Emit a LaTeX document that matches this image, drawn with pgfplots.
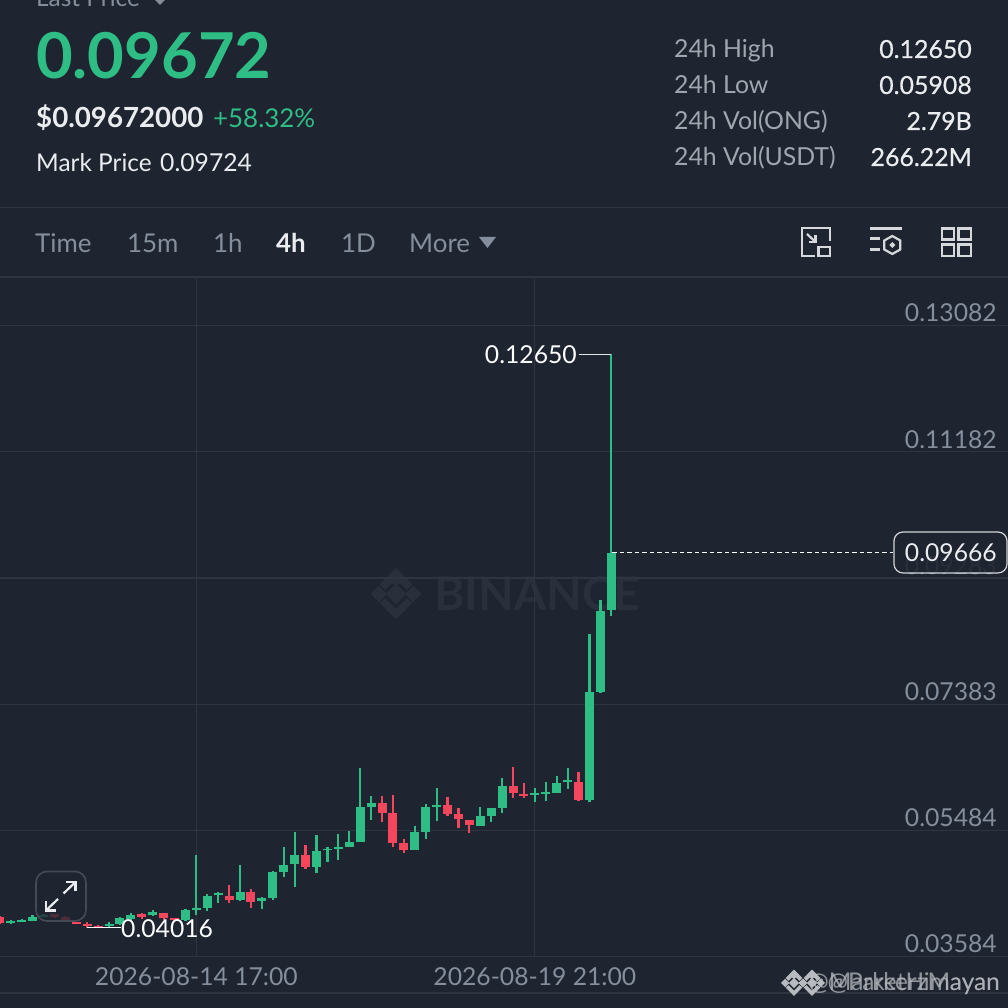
\documentclass[border=0pt]{standalone}
\usepackage{pgfplots}
\usepackage{pgfplotstable}
\usepackage{fontspec}
\setmainfont{Lato}
\newfontfamily\medf[FakeBold=0.5]{Lato}
\pgfplotsset{compat=1.18}
\usetikzlibrary{calc}
\definecolor{bg}{HTML}{1F2530}
\definecolor{up}{HTML}{2EBD85}
\definecolor{down}{HTML}{F6465D}
\definecolor{gridc}{HTML}{2E3540}
\definecolor{muted}{HTML}{848E9C}
\definecolor{soft}{HTML}{B7BDC6}
\definecolor{bright}{HTML}{EAECEF}
\definecolor{wm}{HTML}{2A303B}
\pgfplotstableread{
i lo bot top hi
1 .04070 .04091 .04126 .04141
2 .04100 .04106 .04137 .04156
3 .04115 .04126 .04186 .04216
4 .04179 .04186 .04216 .04231
10 .04031 .04036 .04066 .04106
11 .04055 .04066 .04161 .04186
12 .04126 .04156 .04216 .04246
14 .04197 .04212 .04251 .04287
17 .04126 .04137 .04277 .04296
18 .04206 .04277 .04307 .05115
19 .04266 .04311 .04498 .04522
20 .04386 .04507 .04533 .04552
22 .04417 .04438 .04548 .04965
24 .04302 .04427 .04462 .04477
25 .04438 .04462 .04849 .04874
26 .04776 .04849 .04966 .05233
27 .04627 .04977 .05109 .05455
29 .04838 .04929 .05175 .05410
30 .05010 .05180 .05210 .05230
31 .05040 .05206 .05236 .05431
32 .05230 .05236 .05311 .05481
33 .05305 .05311 .05838 .06419
34 .05632 .05838 .05892 .05993
38 .05190 .05195 .05455 .05546
39 .05350 .05461 .05832 .05883
40 .05617 .05832 .05868 .06128
44 .05552 .05556 .05692 .05838
45 .05602 .05692 .05823 .05827
46 .05742 .05827 .06144 .06275
49 .05907 .06023 .06053 .06124
50 .05922 .06034 .06058 .06204
51 .06049 .06053 .06199 .06299
52 .06113 .06208 .06234 .06419
54 .05908 .05943 .07563 .08443
55 .07548 .07563 .08783 .08944
56 .08703 .08804 .09666 .12650
}\upcandles
\pgfplotstableread{
i lo bot top hi
0 .04066 .04085 .04176 .04194
5 .04164 .04176 .04224 .04231
6 .04126 .04137 .04186 .04194
7 .04066 .04070 .04100 .04103
8 .04016 .04040 .04066 .04096
9 .04018 .04018 .04040 .04061
13 .04156 .04186 .04221 .04246
15 .04137 .04161 .04242 .04246
16 .04121 .04131 .04161 .04171
21 .04386 .04438 .04498 .04664
23 .04311 .04408 .04548 .04603
28 .04898 .04929 .05115 .05270
35 .05602 .05752 .05892 .06004
36 .05230 .05296 .05752 .06019
37 .05139 .05190 .05290 .05356
41 .05696 .05726 .05868 .05988
42 .05516 .05647 .05722 .05817
43 .05436 .05567 .05636 .05642
47 .05967 .06043 .06144 .06430
48 .05967 .06008 .06034 .06199
53 .05928 .05937 .06214 .06369
}\downcandles
\newcommand\diamondlogo[3]{% cx cy scale
  \begin{scope}[shift={(#1,#2)},scale=#3]
   \fill (0,-10) -- (3.6,-6.4) -- (0,-2.8) -- (-3.6,-6.4) -- cycle;
   \fill (0,-4)--(4,0)--(0,4)--(-4,0)--cycle;
   \fill (-10,0)--(-6.8,-3.2)--(-3.6,0)--(-6.8,3.2)--cycle;
   \fill (10,0)--(6.8,-3.2)--(3.6,0)--(6.8,3.2)--cycle;
   \fill (0,10)--(-6.4,3.6)--(-4.2,1.6)--(0,5.8)--(4.2,1.6)--(6.4,3.6)--cycle;
   \fill (0,-10.2)--(-6.4,-3.8)--(-4.2,-1.6)--(0,-5.8)--(4.2,-1.6)--(6.4,-3.8)--cycle;
  \end{scope}}
\begin{document}
\begin{tikzpicture}
\useasboundingbox (0,0) rectangle (1008bp,1008bp);
\fill[bg] (0,0) rectangle (1008bp,1008bp);
\begin{scope}[x=1bp,y=-1bp,yshift=1008bp]
 % watermark under the plot
 \begin{scope}[color=wm]
  \diamondlogo{396}{594}{2.55}
  \node[anchor=center,font=\fontsize{46.5}{46.5}\selectfont\bfseries,text=wm,inner sep=0] at (537,594) {BINANCE};
 \end{scope}
\end{scope}
\begin{axis}[
  at={(0bp,50.5bp)},anchor=south west,
  width=1008bp,height=680bp,scale only axis,
  xmin=0.016,xmax=92.324,
  ymin=0.03569,ymax=0.13807,
  axis line style={draw=none},
  major tick length=0pt,
  grid=major,
  grid style={gridc,line width=1.1bp},
  xtick={18,49},
  xticklabels={2026-08-14 17:00,2026-08-19 21:00},
  ytick={0.03584,0.05484,0.07383,0.09283,0.11182,0.13082},
  yticklabels={0.03584,0.05484,0.07383,0.09283,0.11182,0.13082},
  yticklabel pos=right,
  y tick label style={anchor=east,xshift=-11bp,yshift=12.5bp,text=muted,font=\fontsize{24.8}{24.8}\selectfont,inner sep=0pt},
  x tick label style={anchor=center,yshift=-19bp,text=muted,font=\fontsize{24.8}{24.8}\selectfont,inner sep=0pt},
]
% wicks
\addplot[draw=none,no markers,forget plot,error bars/.cd,y dir=plus,y explicit,error mark=none,error bar style={solid,draw=up,line width=2.2bp}]
  table[x=i,y=lo,y error plus expr=\thisrow{hi}-\thisrow{lo}]{\upcandles};
\addplot[draw=none,no markers,forget plot,error bars/.cd,y dir=plus,y explicit,error mark=none,error bar style={solid,draw=down,line width=2.2bp}]
  table[x=i,y=lo,y error plus expr=\thisrow{hi}-\thisrow{lo}]{\downcandles};
% bodies
\addplot[draw=none,no markers,forget plot,error bars/.cd,y dir=plus,y explicit,error mark=none,error bar style={solid,draw=up,line width=9bp}]
  table[x=i,y=bot,y error plus expr=\thisrow{top}-\thisrow{bot}]{\upcandles};
\addplot[draw=none,no markers,forget plot,error bars/.cd,y dir=plus,y explicit,error mark=none,error bar style={solid,draw=down,line width=9bp}]
  table[x=i,y=bot,y error plus expr=\thisrow{top}-\thisrow{bot}]{\downcandles};
% annotations
\addplot[white!80!gray,line width=1.2bp,forget plot] coordinates {(53.0,0.12650) (56,0.12650)};
\addplot[white,line width=1.2bp,forget plot] coordinates {(8,0.04016) (11.1,0.04016)};
\addplot[white,line width=1bp,dash pattern=on 4.5bp off 3bp,forget plot] coordinates {(56.1,0.09666) (81.8,0.09666)};
\end{axis}
\begin{scope}[x=1bp,y=-1bp,yshift=1008bp]
 \tikzset{t/.style={inner sep=0pt,font=\fontsize{#1}{#1}\selectfont}}
 % rules
 \draw[gridc,line width=1.2bp] (0,207.5)--(1008,207.5);
 \draw[gridc,line width=1.2bp] (0,277)--(1008,277);
 \draw[gridc,line width=1.1bp] (0,993)--(1008,993);
 % header
 \node[anchor=base west,inner sep=0pt,text=muted,font=\fontsize{24.5}{24.5}\selectfont] at (36,7) {Last Price};
 \fill[muted] (155,0)--(165,0)--(160,5)--cycle;
 \node[anchor=base west,inner sep=0pt,text=up,font=\fontsize{63.5}{63.5}\selectfont\bfseries] at (36,79) {0.09672};
 \node[anchor=base west,inner sep=0pt,text=bright,font=\fontsize{27.8}{27.8}\selectfont\bfseries] at (36,128) {\$0.09672000};
 \node[t=26,anchor=base west,text=up] at (213,128) {+58.32\%};
 \node[t=24.5,anchor=base west,text=bright] at (36,172) {Mark Price};
 \node[t=24.8,anchor=base west,text=bright] at (160,172) {0.09724};
 % stats
 \foreach \y/\a/\b in {58/24h High/0.12650,94/24h Low/0.05908,130/24h Vol(ONG)/2.79B,166/24h Vol(USDT)/266.22M}{
  \node[t=24.9,anchor=base west,text=soft!85!bg] at (674,\y) {\a};
  \node[anchor=base east,inner sep=0pt,text=bright,font=\fontsize{25}{25}\selectfont\medf] at (972,\y) {\b};
 }
 % tabs
 \foreach \x/\a in {35/Time,127/15m,213/1h,341/1D,409/More}{
  \node[t=26,anchor=base west,text=muted] at (\x,253) {\a};
 }
 \node[anchor=base west,inner sep=0pt,text=bright,font=\fontsize{26}{26}\selectfont\bfseries] at (276,253) {4h};
 \fill[muted] (479,237)--(496,237)--(487.5,248)--cycle;
 % toolbar icons
 \begin{scope}[draw=bright!90!bg,line width=2.2bp]
  \draw (815,256)--(802,256)--(802,228)--(830,228)--(830,241);
  \draw (818.5,247)rectangle(830,256);
  \draw (807,234)--(815.5,242);
  \draw (815.5,235.5)--(815.5,242)--(808.5,242);
  \draw (870,228.5)--(902,228.5);
  \draw (870,238.5)--(879.5,238.5);
  \draw (870,249.5)--(879.5,249.5);
  \draw (892.3,236)--(900.3,240.5)--(900.3,249.5)--(892.3,254)--(884.3,249.5)--(884.3,240.5)--cycle;
  \fill[bright!90!bg] (892.3,242)--(895.3,245)--(892.3,248)--(889.3,245)--cycle;
  \draw (942,228.5)rectangle(954,239.5);
  \draw (958.5,228.5)rectangle(971,239.5);
  \draw (942,244.5)rectangle(954,256);
  \draw (958.5,244.5)rectangle(971,256);
 \end{scope}
 % high and low labels
 \node[t=24.8,anchor=east,text=white] at (577,355) {0.12650};
 \node[t=24.8,anchor=west,text=white] at (121,929) {0.04016};
 % price box
 \draw[white!80!bg,line width=1.2bp,fill=bg,fill opacity=0.9,rounded corners=9bp] (894,532) rectangle (1007,573);
 \node[t=24.8,anchor=east,text=bright] at (997,553) {0.09666};
 % expand button
 \draw[gridc!75!muted,line width=1.6bp,fill=bg,fill opacity=0.8,rounded corners=11bp] (36,871.5) rectangle (86,921);
 \begin{scope}[draw=bright,line width=2.2bp]
  \draw (46,910.5)--(58,899);
  \draw (46,901)--(46,910.5)--(55.5,910.5);
  \draw (63.5,893.5)--(75.5,882);
  \draw (66,882)--(75.5,882)--(75.5,891.5);
 \end{scope}
 % source marks
 \begin{scope}[color=bright!75!bg]
  \diamondlogo{794}{983}{1.3}
  \diamondlogo{812}{983}{1.3}
 \end{scope}
 \node[anchor=base east,inner sep=0pt,text=bright!75!bg,opacity=0.75,font=\fontsize{24.5}{24.5}\selectfont] at (1000,991) {@ParkerzMayan};
 \node[anchor=base east,inner sep=0pt,text=bright!75!bg,opacity=0.75,font=\fontsize{24.5}{24.5}\selectfont] at (1000,991) {@MarketHimayan};
\end{scope}
\end{tikzpicture}
\end{document}
